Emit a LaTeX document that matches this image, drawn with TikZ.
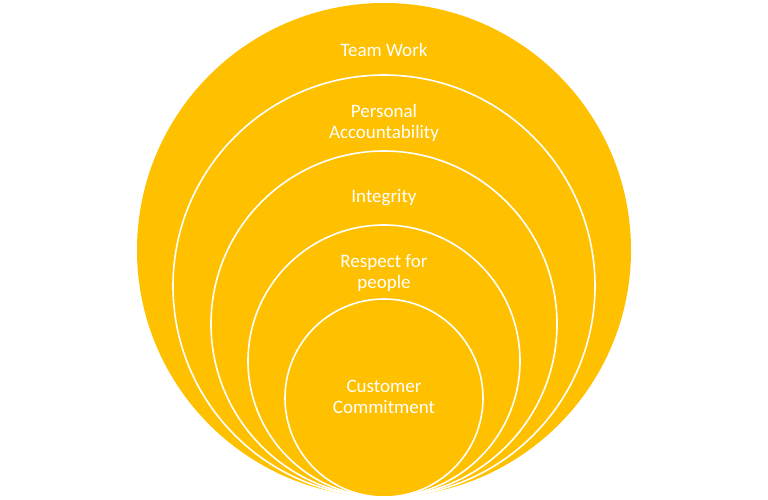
\documentclass[tikz,border=0pt]{standalone}
\usepackage{fontspec}
\setmainfont{Carlito}
\definecolor{gold}{HTML}{FFC000}
\begin{document}
\begin{tikzpicture}[x=1pt,y=-1pt,
  ring/.style={circle,fill=gold,draw=white,line width=1.6pt,inner sep=0pt},
  outerring/.style={circle,fill=gold,inner sep=0pt},
  lbl/.style={text=white,align=center,font=\fontsize{19}{21}\selectfont,inner sep=0pt}]
\useasboundingbox (0,0) rectangle (768,499);
\node[outerring,minimum size=494pt] (c1) at (384,250) {};
\node[ring,minimum size=422pt] (c2) at (384,286) {};
\node[ring,minimum size=346pt] (c3) at (384,324) {};
\node[ring,minimum size=272pt] (c4) at (384,361) {};
\node[ring,minimum size=198pt] (c5) at (384,398) {};
\node[lbl] (t1) at (384,50) {Team Work};
\node[lbl] (t2) at (384,123) {Personal\\Accountability};
\node[lbl] (t3) at (384,198) {Integrity};
\node[lbl] (t4) at (384,273) {Respect for\\people};
\node[lbl] (t5) at (384,397) {Customer\\Commitment};
\end{tikzpicture}
\end{document}
